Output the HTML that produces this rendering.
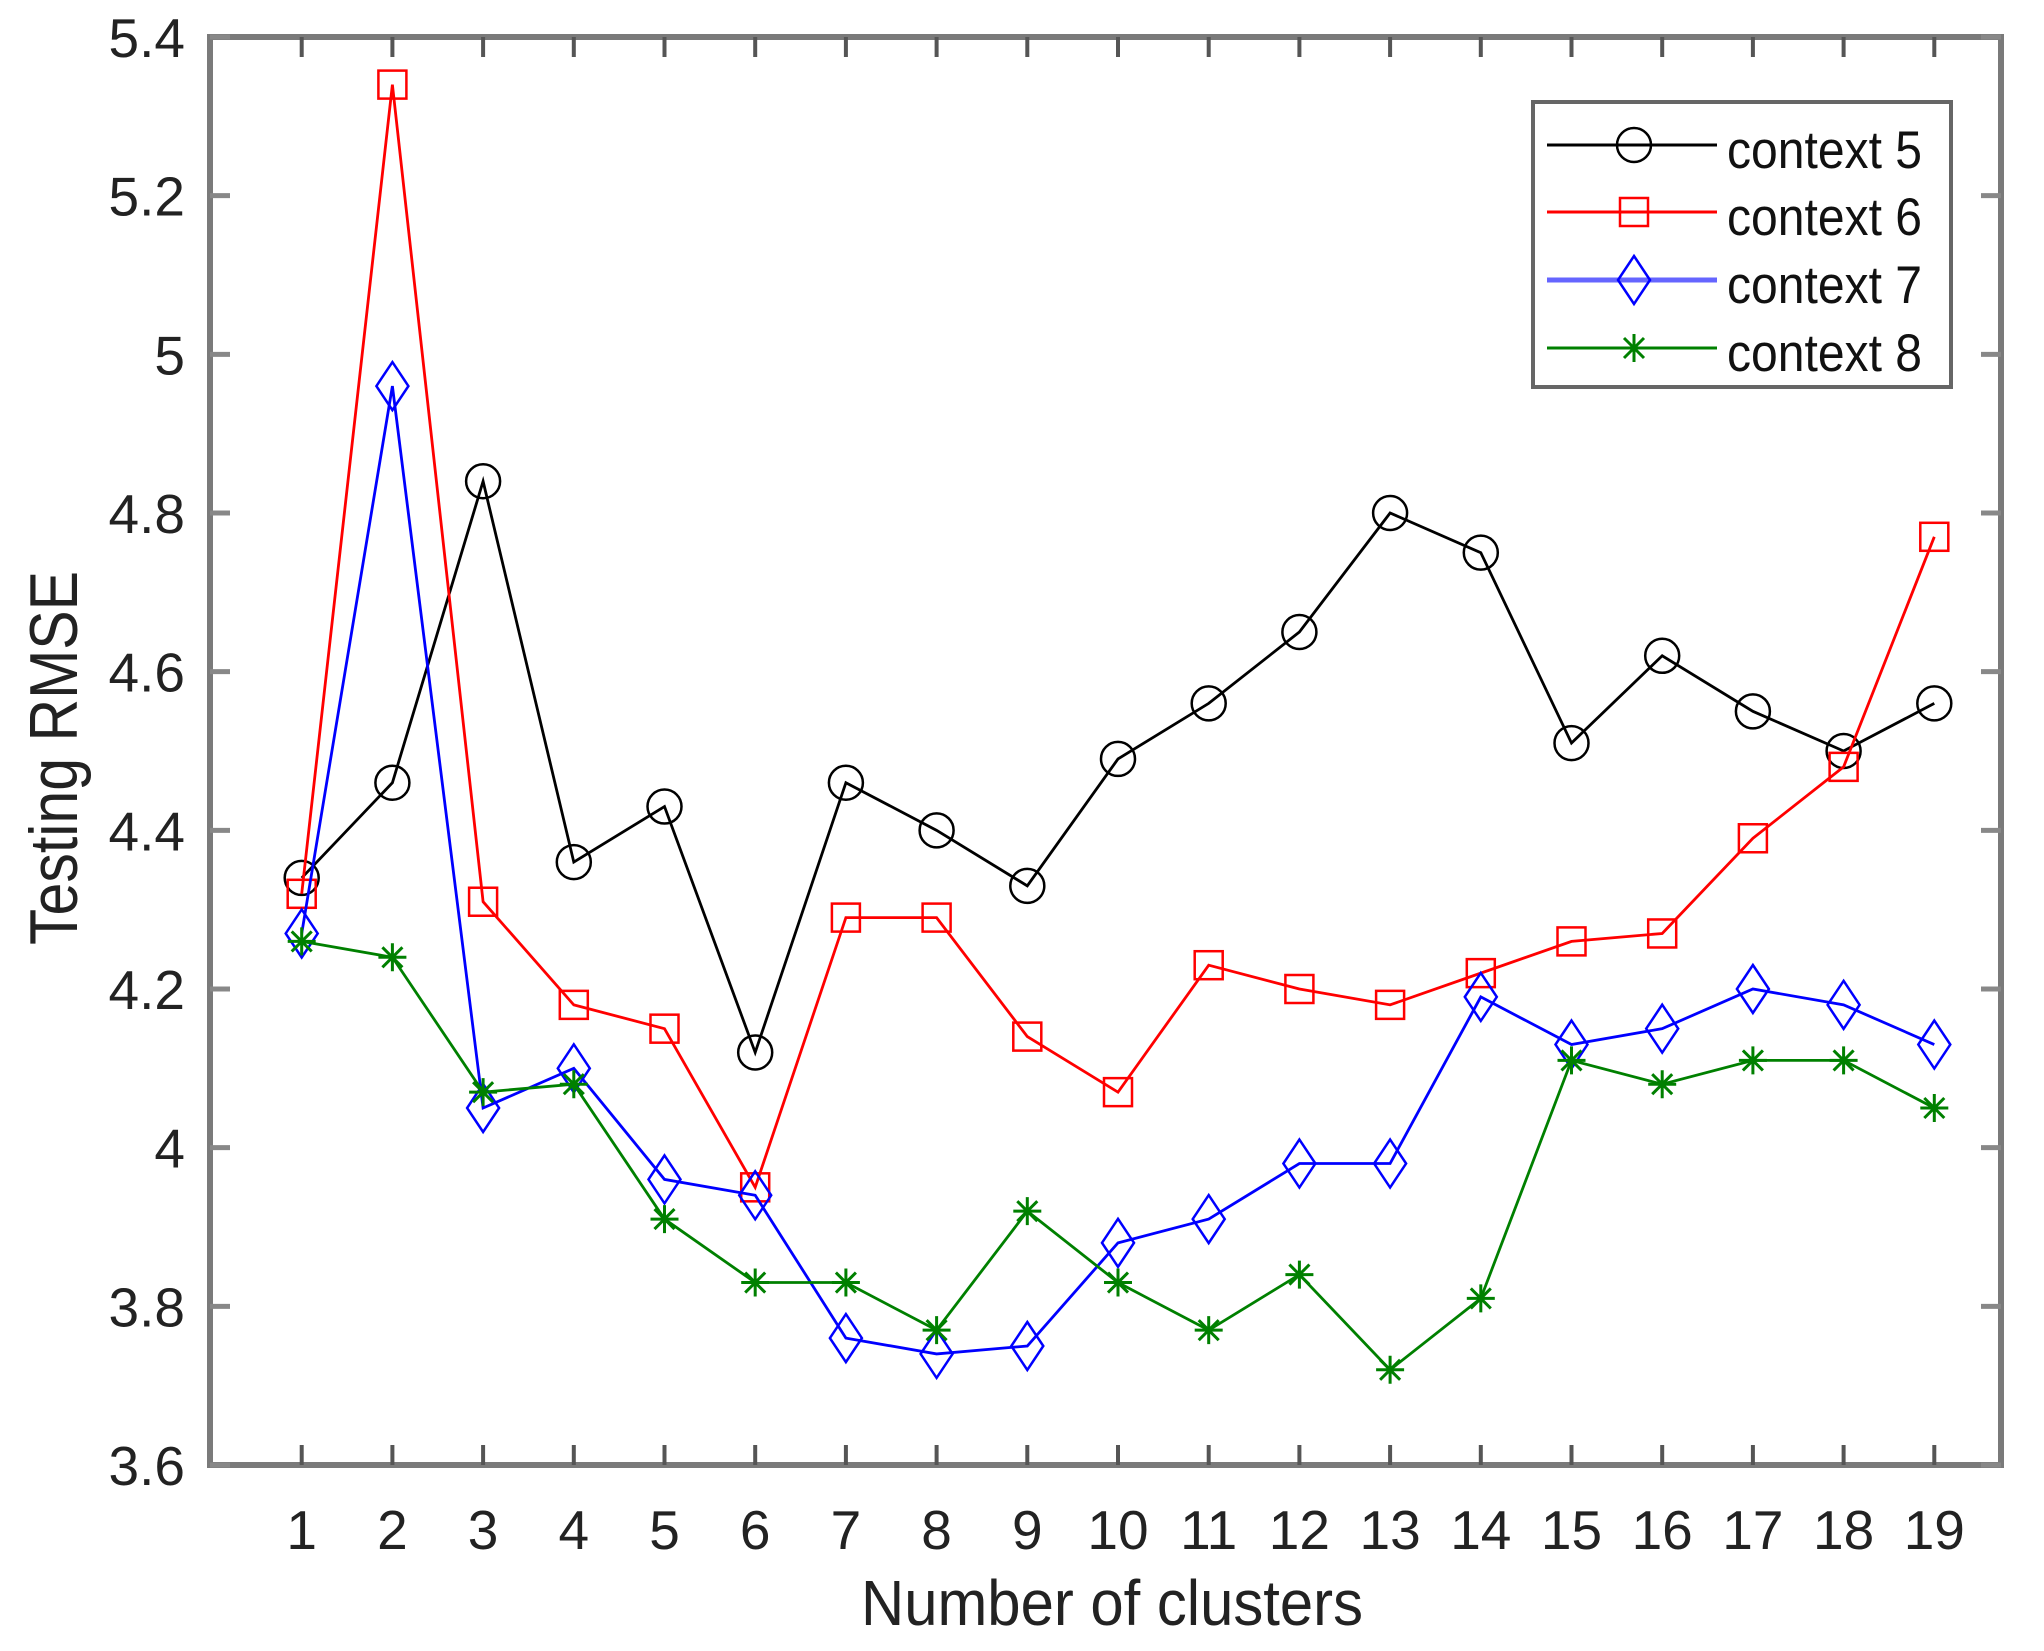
<!DOCTYPE html>
<html><head><meta charset="utf-8"><style>html,body{margin:0;padding:0;background:#fff}svg{display:block}</style></head>
<body>
<svg width="2044" height="1651" viewBox="0 0 2044 1651" xmlns="http://www.w3.org/2000/svg" font-family="Liberation Sans, Arial, sans-serif">
<defs>
<circle id="mc" r="17" fill="none" stroke="#000" stroke-width="2.5"/>
<rect id="ms" x="-14" y="-14" width="28" height="28" fill="none" stroke="#f00" stroke-width="2.5"/>
<path id="md" d="M0,-24 L16,0 L0,24 L-16,0 Z" fill="none" stroke="#00f" stroke-width="2.5"/>
<path id="mx" d="M-14,0H14M0,-14V14M-10,-10L10,10M-10,10L10,-10" stroke="#008000" stroke-width="3"/>
</defs>
<g id="plot"></g>
<rect x="1533" y="102" width="418" height="285" fill="#fff" stroke="#666" stroke-width="4"/>
<g stroke-width="3">
<line x1="1547" y1="145" x2="1717" y2="145" stroke="#000"/><use href="#mc" x="1634" y="145"/>
<line x1="1547" y1="212" x2="1717" y2="212" stroke="#f00"/><use href="#ms" x="1634" y="212"/>
<line x1="1547" y1="280" x2="1717" y2="280" stroke="#00f" stroke-width="5" opacity="0.6"/><use href="#md" x="1634" y="280"/>
<line x1="1547" y1="348" x2="1717" y2="348" stroke="#008000"/><use href="#mx" x="1634" y="348"/>
</g>
<g font-size="53" fill="#111">
<text x="1727" y="168" textLength="195" lengthAdjust="spacingAndGlyphs">context 5</text>
<text x="1727" y="235" textLength="195" lengthAdjust="spacingAndGlyphs">context 6</text>
<text x="1727" y="303" textLength="195" lengthAdjust="spacingAndGlyphs">context 7</text>
<text x="1727" y="371" textLength="195" lengthAdjust="spacingAndGlyphs">context 8</text>
</g>
<text x="1112" y="1625" font-size="64" text-anchor="middle" fill="#222" textLength="502" lengthAdjust="spacingAndGlyphs">Number of clusters</text>
<text transform="translate(77,758) rotate(-90)" font-size="68" text-anchor="middle" fill="#222" textLength="374" lengthAdjust="spacingAndGlyphs">Testing RMSE</text>
<script>
(function(){
var NS="http://www.w3.org/2000/svg",g=document.getElementById("plot");
var L=210,R=2001,T=37,B=1465,x0=301.7,dx=90.7;
function X(i){return x0+(i-1)*dx}function Y(v){return T+(5.4-v)/1.8*(B-T)}
function el(n,a,p){var e=document.createElementNS(NS,n);for(var k in a)e.setAttribute(k,a[k]);(p||g).appendChild(e);return e}
el("rect",{x:L,y:T,width:R-L,height:B-T,fill:"none",stroke:"#7a7a7a","stroke-width":6});
for(var i=1;i<=19;i++){var x=X(i);el("line",{x1:x,y1:B,x2:x,y2:B-20,stroke:"#555","stroke-width":4});el("line",{x1:x,y1:T,x2:x,y2:T+20,stroke:"#555","stroke-width":4});
var t=el("text",{x:x,y:1549,"font-size":55,"text-anchor":"middle",fill:"#222"});t.textContent=i;}
for(var k=0;k<=9;k++){var v=3.6+k*0.2,y=Y(v);el("line",{x1:L,y1:y,x2:L+20,y2:y,stroke:"#888","stroke-width":5});el("line",{x1:R,y1:y,x2:R-20,y2:y,stroke:"#888","stroke-width":5});
var s=(Math.round(v*10)/10).toString();var t=el("text",{x:185,y:y+20,"font-size":55,"text-anchor":"end",fill:"#222"});t.textContent=s;}
var D=[
["#000","#mc",[4.34,4.46,4.84,4.36,4.43,4.12,4.46,4.40,4.33,4.49,4.56,4.65,4.80,4.75,4.51,4.62,4.55,4.50,4.56]],
["#f00","#ms",[4.32,5.34,4.31,4.18,4.15,3.95,4.29,4.29,4.14,4.07,4.23,4.20,4.18,4.22,4.26,4.27,4.39,4.48,4.77]],
["#00f","#md",[4.27,4.96,4.05,4.10,3.96,3.94,3.76,3.74,3.75,3.88,3.91,3.98,3.98,4.19,4.13,4.15,4.20,4.18,4.13]],
["#008000","#mx",[4.26,4.24,4.07,4.08,3.91,3.83,3.83,3.77,3.92,3.83,3.77,3.84,3.72,3.81,4.11,4.08,4.11,4.11,4.05]]];
D.forEach(function(d){var p=d[2].map(function(v,i){return X(i+1)+","+Y(v)}).join(" ");
el("polyline",{points:p,fill:"none",stroke:d[0],"stroke-width":2.8});
d[2].forEach(function(v,i){el("use",{href:d[1],x:X(i+1),y:Y(v)})});});
})();
</script>
</svg>
</body></html>
